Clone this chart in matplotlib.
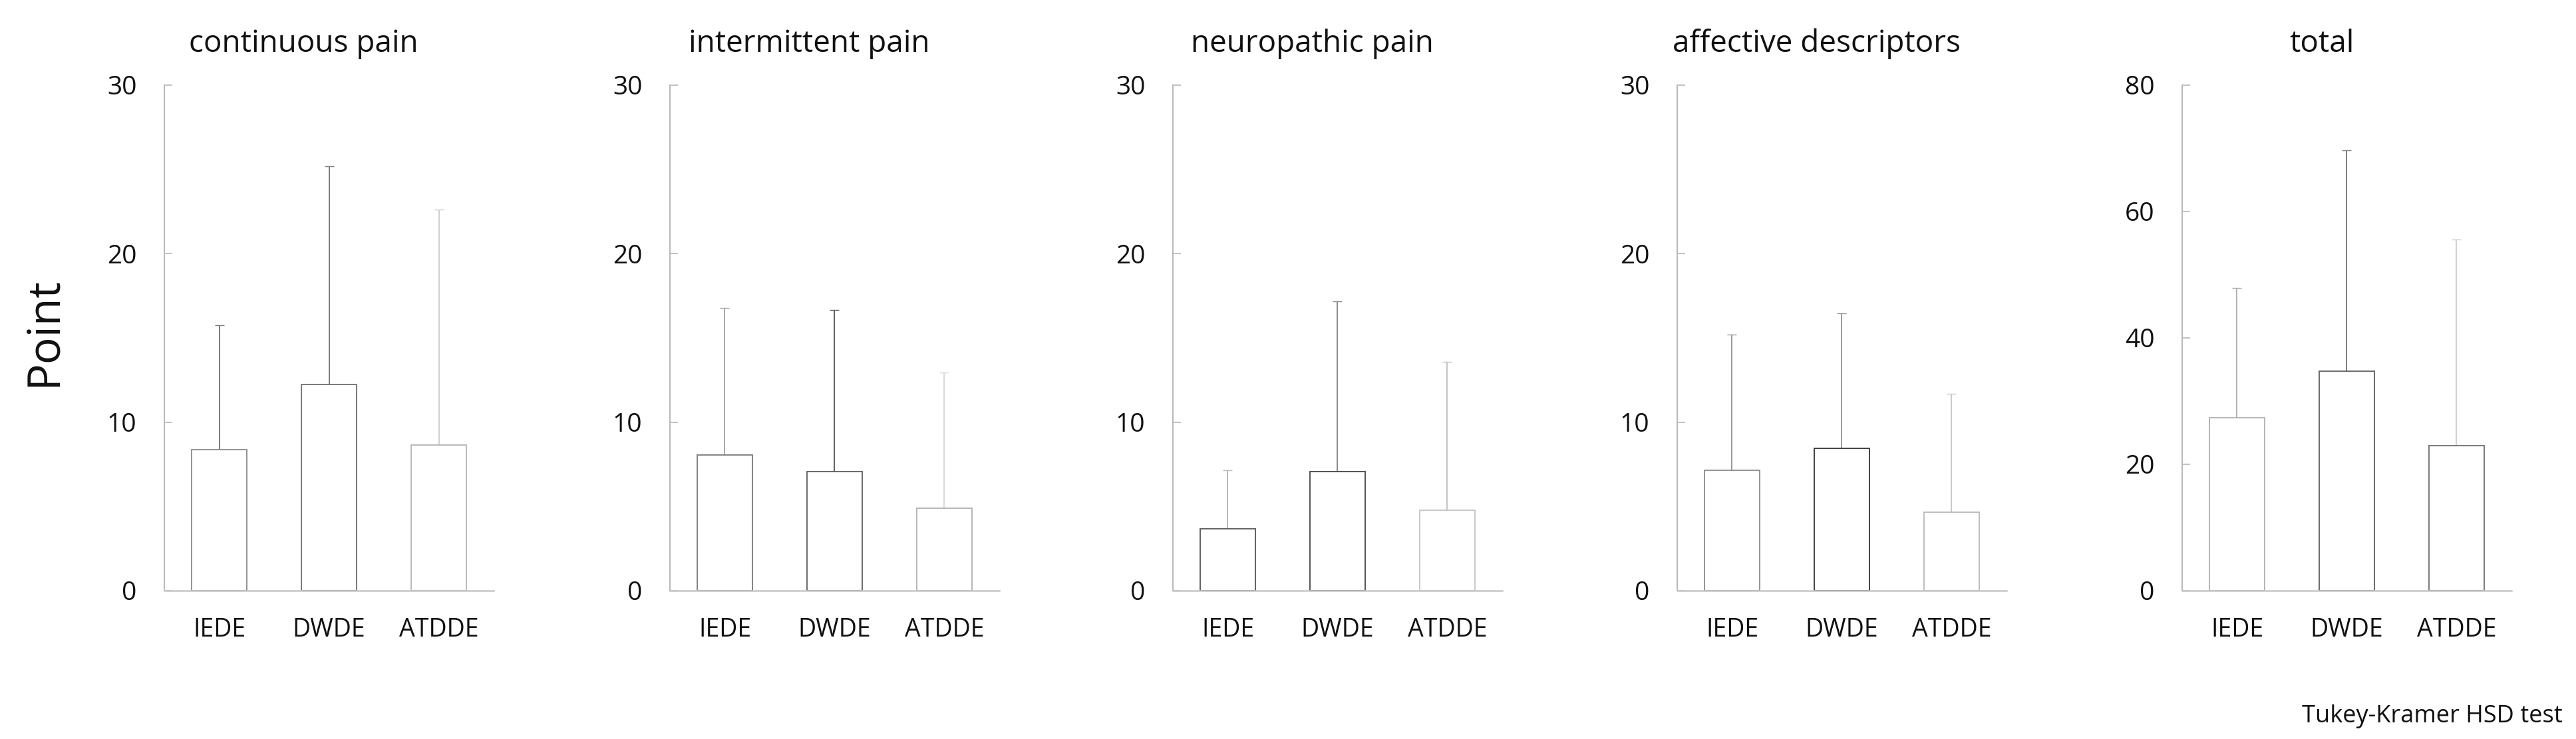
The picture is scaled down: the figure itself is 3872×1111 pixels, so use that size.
import matplotlib
matplotlib.use("Agg")
import matplotlib.pyplot as plt
import numpy as np

plt.rcParams["font.family"] = ["Open Sans", "DejaVu Sans"]

groups = ["IEDE", "DWDE", "ATDDE"]
titles = ["continuous pain", "intermittent pain", "neuropathic pain",
          "affective descriptors", "total"]

# mean and SD (only the upper SD whisker is drawn)
continuous_mean = [8.36, 12.22, 8.66]
continuous_sd = [7.40, 12.98, 13.94]
intermittent_mean = [8.07, 7.07, 4.88]
intermittent_sd = [8.70, 9.58, 8.07]
neuropathic_mean = [3.68, 7.06, 4.76]
neuropathic_sd = [3.48, 10.13, 8.83]
affective_mean = [7.15, 8.44, 4.65]
affective_sd = [8.05, 8.02, 7.04]
total_mean = [27.4, 34.7, 22.9]
total_sd = [20.5, 35.0, 32.7]

y_max = [30, 30, 30, 30, 80]
y_step = [10, 10, 10, 10, 20]

means = [continuous_mean, intermittent_mean, neuropathic_mean,
         affective_mean, total_mean]
sds = [continuous_sd, intermittent_sd, neuropathic_sd, affective_sd, total_sd]

# per-bar line shades, they differ a lot in the scanned original
edge_colors = [["#8a8a8a", "#6e6e6e", "#b4b4b4"],
               ["#7a7a7a", "#5e5e5e", "#b0b0b0"],
               ["#555555", "#444444", "#c4c4c4"],
               ["#8a8a8a", "#333333", "#b8b8b8"],
               ["#b0b0b0", "#5e5e5e", "#6e6e6e"]]
err_colors = [["#7a7a7a", "#7a7a7a", "#d0d0d0"],
              ["#a8a8a8", "#5e5e5e", "#d8d8d8"],
              ["#b8b8b8", "#8a8a8a", "#c4c4c4"],
              ["#9a9a9a", "#9a9a9a", "#c8c8c8"],
              ["#b0b0b0", "#7a7a7a", "#d0d0d0"]]

W, H = 3873, 1111
fig = plt.figure(figsize=(W / 100, H / 100), dpi=100)

lefts = [247, 1007, 1763, 2521, 3280]
ax_w = 495
ax_bottom = 888
ax_top = 128

x = np.arange(len(groups))
for i in range(len(titles)):
    ax = fig.add_axes([lefts[i] / W, 1 - ax_bottom / H,
                       ax_w / W, (ax_bottom - ax_top) / H])
    ax.bar(x, means[i], width=0.5, color="white",
           edgecolor=edge_colors[i], linewidth=1.3, zorder=2)
    for j in range(len(groups)):
        ax.errorbar(x[j], means[i][j], yerr=[[0], [sds[i][j]]], fmt="none",
                    ecolor=err_colors[i][j], elinewidth=1.4, capsize=5,
                    capthick=1.0, zorder=1)
    ax.set_xlim(-0.5, 2.5)
    ax.set_ylim(0, y_max[i])
    ax.set_yticks(np.arange(0, y_max[i] + 1, y_step[i]))
    ax.set_xticks(x)
    ax.set_xticklabels(groups)
    for side in ["top", "right"]:
        ax.spines[side].set_visible(False)
    ax.spines["left"].set_color("#b8b8b8")
    ax.spines["bottom"].set_color("#c8c8c8")
    ax.spines["left"].set_linewidth(1.4)
    ax.spines["bottom"].set_linewidth(1.8)
    ax.tick_params(axis="y", direction="in", length=8.6, width=1.2,
                   color="#b8b8b8", pad=30, labelsize=28, labelcolor="#111111")
    ax.tick_params(axis="x", length=0, pad=29, labelsize=27,
                   labelcolor="#111111")
    ax.text(0.423, 1 - 78 / H, titles[i], transform=fig.transFigure,
            fontsize=33, ha="center", va="baseline", color="#111111")
    # keep title x in axes fraction
    ax.texts[-1].set_x((lefts[i] + 0.423 * ax_w) / W)

fig.text(84 / W, 1 - 499 / H, "Point", rotation=90, rotation_mode="anchor",
         ha="center", va="baseline", fontsize=49, color="#111111")
fig.text(3852 / W, 1 - 1086 / H, "Tukey-Kramer HSD test", ha="right",
         va="baseline", fontsize=26, color="#111111")

fig.savefig("out.png", dpi=100, facecolor="white")
